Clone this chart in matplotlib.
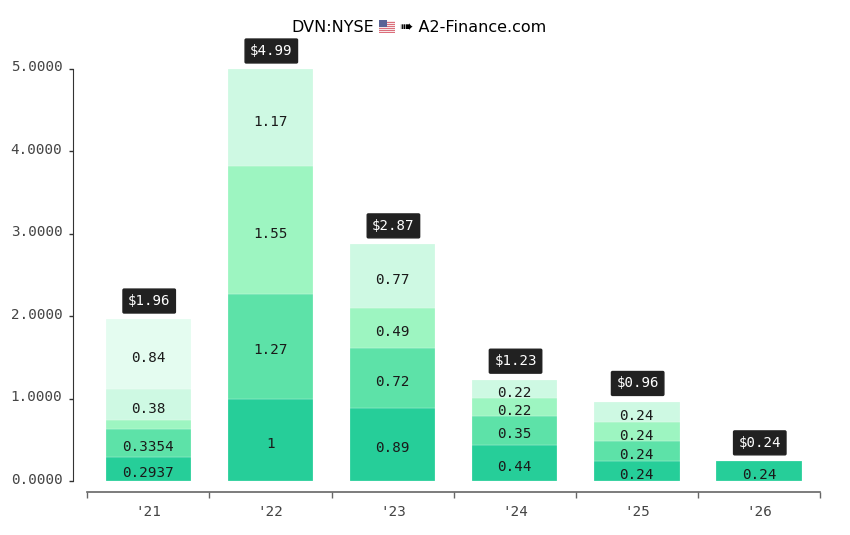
from matplotlib import pyplot as plt
from matplotlib.patches import Rectangle
from matplotlib.transforms import ScaledTranslation
import numpy as np

years = ["'21", "'22", "'23", "'24", "'25", "'26"]
totals = ['$1.96', '$4.99', '$2.87', '$1.23', '$0.96', '$0.24']
# one list per stack level, bottom to top, None = no segment
level1 = [0.2937, 1, 0.89, 0.44, 0.24, 0.24]
level2 = [0.3354, 1.27, 0.72, 0.35, 0.24, None]
level3 = [0.11, 1.55, 0.49, 0.22, 0.24, None]
level4 = [0.38, 1.17, 0.77, 0.22, 0.24, None]
level5 = [0.84, None, None, None, None, None]
levels = [level1, level2, level3, level4, level5]
colors = ['#26CE99', '#5DE2A8', '#9DF5C1', '#CEF9E3', '#E4FCF0']
y_ticks = [0, 1, 2, 3, 4, 5]

W, H = 850, 535
MONO = 'DejaVu Sans Mono'
PX_PER_UNIT = 82.5

fig = plt.figure(figsize=(W / 100, H / 100), dpi=100)
# axes box in pixels: x 87.5-820, y 60-492
ax = fig.add_axes([87.3 / W, 1 - 492 / H, (820 - 87.3) / W, (492 - 60) / H])
ax.set_xlim(-0.5, 5.5)
ax.set_ylim(-11 / PX_PER_UNIT, 421 / PX_PER_UNIT)

x = np.arange(len(years))
bottoms = [0.0] * len(years)
for level, color in zip(levels, colors):
    for i, v in enumerate(level):
        if v is None:
            continue
        ax.bar(x[i], v, width=0.7, bottom=bottoms[i], color=color, edgecolor='white', linewidth=0.15)
        # the thin segments carry no label
        if v > 0.15:
            ax.annotate(str(v), (x[i], bottoms[i] + v / 2), xytext=(0, -3), textcoords='offset points',
                        ha='center', va='center', family=MONO, fontsize=10.3, color='#1a1a1a')
        bottoms[i] += v

for i, t in enumerate(totals):
    ax.annotate(t, (x[i], bottoms[i]), xytext=(0.6, 13.2), textcoords='offset points',
                ha='center', va='center', family=MONO, fontsize=10.2, color='white',
                bbox=dict(boxstyle='round,pad=0.35,rounding_size=0.08', fc='#212121', ec='#212121'))

for s in ['top', 'right']:
    ax.spines[s].set_visible(False)
ax.spines['left'].set_position(('outward', 14.5 * 0.72))
ax.spines['left'].set_bounds(0, 5)
ax.spines['left'].set_color('#333333')
ax.spines['bottom'].set_color('#666666')
ax.spines['bottom'].set_linewidth(1.2)

ax.set_yticks(y_ticks)
ax.set_yticklabels(['%.4f' % t for t in y_ticks], family=MONO, fontsize=10.3, color='#444444')
ax.set_xticks(np.append(x - 0.5, 5.5))
ax.set_xticklabels([''] * 7)
ax.tick_params(axis='x', length=4, width=1, color='#666666')
ax.tick_params(axis='y', length=3, width=1, color='#333333', pad=4.5)
# y labels sit a little above their ticks
for lab in ax.get_yticklabels():
    lab.set_transform(lab.get_transform() + ScaledTranslation(0, 2 / 72, fig.dpi_scale_trans))
for i, y in enumerate(years):
    ax.annotate(y, (x[i], 0), xycoords=('data', 'axes fraction'), xytext=(0.2, -14.3), textcoords='offset points',
                ha='center', va='center', family=MONO, fontsize=10.3, color='#444444')

# title in three parts, flag drawn between them
fig.text(374 / W, 1 - 27 / H, 'DVN:NYSE', ha='right', va='center', fontsize=11.5, color='black')
fig.text(400 / W, 1 - 27 / H, '\u27a0 A2-Finance.com', ha='left', va='center', fontsize=11.5, color='black')
flag_x, flag_y, flag_w, flag_h = 379, 20.5, 16, 12
for k in range(13):
    c = '#DC6F7C' if k % 2 == 0 else '#F6E8E8'
    fig.add_artist(Rectangle((flag_x / W, 1 - (flag_y + (k + 1) * flag_h / 13) / H), flag_w / W, (flag_h / 13) / H,
                             transform=fig.transFigure, fc=c, ec='none'))
fig.add_artist(Rectangle((flag_x / W, 1 - (flag_y + 6.5) / H), 8 / W, 6.5 / H,
                         transform=fig.transFigure, fc='#5A6496', ec='none'))

fig.savefig('out.png', dpi=100)
